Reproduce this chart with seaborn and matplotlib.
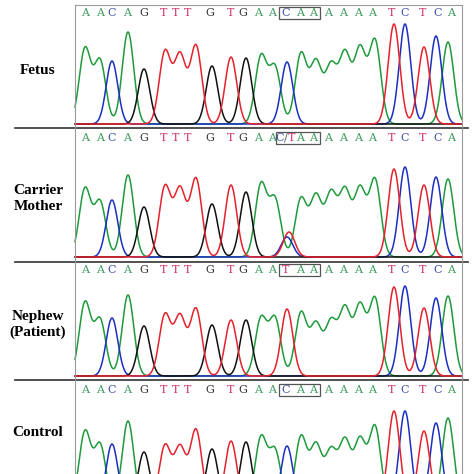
import numpy as np
import pandas as pd
import seaborn as sns
import matplotlib.pyplot as plt
from matplotlib.patches import Rectangle

# Sequencia lida (igual nos quatro paineis, exceto a posicao 14)
bases = list("AACAGTTTGTGAACAAAAAATCTCA")
posicoes = [85, 100, 112, 128, 144, 165, 180, 196, 212, 231, 246, 261, 275, 287,
            301, 316, 331, 345, 360, 375, 394, 405, 424, 436, 448]
posicoes_letras = [85, 100, 112, 127, 144, 164, 176, 188, 210, 231, 243, 258, 272, 286,
                   300, 313, 328, 343, 358, 372, 392, 405, 423, 438, 451]

altura_feto = [75, 63, 63, 92, 55, 72, 68, 78, 58, 67, 66, 67, 56, 62, 70, 61,
               57, 69, 74, 83, 100, 100, 77, 88, 82]
altura_mae = [68, 55, 57, 82, 50, 70, 67, 78, 53, 72, 65, 72, 57, 20, 58, 60,
              62, 65, 67, 77, 88, 90, 72, 80, 78]
altura_sobrinho = [73, 56, 58, 81, 50, 61, 59, 67, 51, 56, 56, 57, 57, 67, 63, 51,
                   53, 66, 69, 77, 89, 90, 68, 78, 80]
altura_controle = [72, 59, 60, 83, 52, 58, 56, 74, 55, 63, 62, 66, 53, 58, 67, 58,
                   52, 62, 63, 77, 93, 93, 73, 81, 86]

# paineis: rotulo, alturas, base na posicao 14, pico extra, topo, linha de base
paineis = [
    ("Fetus", altura_feto, "C", None, 5, 125),
    ("Carrier\nMother", altura_mae, "C", ("T", 25), 130, 258),
    ("Nephew\n(Patient)", altura_sobrinho, "T", None, 262, 377),
    ("Control", altura_controle, "C", None, 382, 505),
]
separadores = [128, 262, 380]

cores_traco = {"A": "#1f9a3c", "C": "#1b2fc0", "G": "#111111", "T": "#e3222b"}
cores_letra = {"A": "#3e9a5e", "C": "#3a4aa8", "G": "#333333", "T": "#d2346a"}

fig = plt.figure(figsize=(4.74, 4.74), dpi=100)
ax = fig.add_axes([0, 0, 1, 1])
ax.set_xlim(0, 474)
ax.set_ylim(474, 0)
ax.axis("off")

x = np.linspace(75, 462, 1500)
sigma = 5.8

for rotulo, alturas, base14, extra, topo, linha_base in paineis:
    seq = bases.copy()
    seq[13] = base14
    sinais = {b: np.zeros_like(x) for b in "ACGT"}
    for b, p, h in zip(seq, posicoes, alturas):
        sinais[b] += h * np.exp(-0.5 * ((x - p) / sigma) ** 2)
    if extra is not None:
        sinais[extra[0]] += extra[1] * np.exp(-0.5 * ((x - posicoes[13] - 2) / sigma) ** 2)
    partes = []
    for b in "ACGT":
        partes.append(pd.DataFrame({"x": x, "y": linha_base - sinais[b] - 1, "base": b}))
    df = pd.concat(partes)
    sns.lineplot(data=df, x="x", y="y", hue="base", palette=cores_traco,
                 estimator=None, legend=False, linewidth=1.1, ax=ax)

    # letras da sequencia
    y_letra = topo + 8
    for i, (b, p) in enumerate(zip(seq, posicoes_letras)):
        if i == 13 and extra is not None:
            for dx, letra, cor in [(-6, "C", cores_letra["C"]), (0, "/", "#555555"),
                                   (6, "T", cores_letra["T"])]:
                ax.text(p + dx, y_letra, letra, color=cor, fontsize=8,
                        family="DejaVu Serif", ha="center", va="center")
            continue
        ax.text(p, y_letra, b, color=cores_letra[b], fontsize=8,
                family="DejaVu Serif", ha="center", va="center")
    x0 = posicoes_letras[13] - 7 - (3 if extra is not None else 0)
    ax.add_patch(Rectangle((x0, y_letra - 6), posicoes_letras[15] + 7 - x0,
                           12, fill=False, edgecolor="#555555", linewidth=0.9))

    ax.text(38, (topo + min(linha_base, 474)) / 2 + 5, rotulo, ha="center", va="center",
            fontsize=11, fontweight="bold", family="Liberation Serif", linespacing=1.3)

for y in separadores:
    ax.plot([15, 468], [y, y], color="#333333", linewidth=1.2)
ax.plot([75, 462], [5, 5], color="#999999", linewidth=0.8)
ax.plot([75, 75], [5, 474], color="#999999", linewidth=0.8)
ax.plot([462, 462], [5, 474], color="#999999", linewidth=0.8)

fig.savefig("out.png", dpi=100, facecolor="white")
